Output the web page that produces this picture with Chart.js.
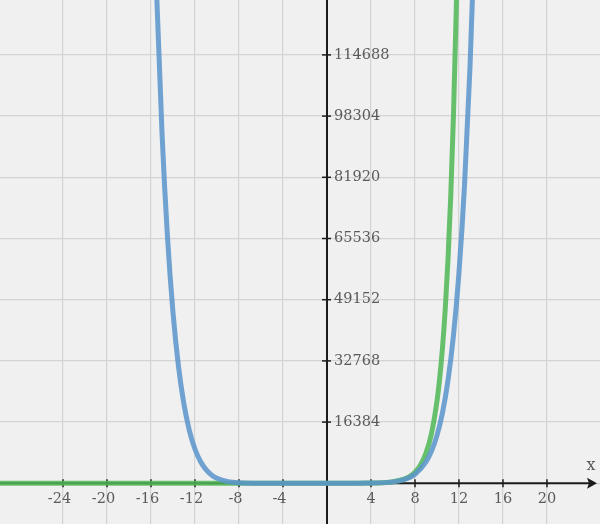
<!DOCTYPE html>
<html>
<head>
<meta charset="utf-8">
<script src="https://cdn.jsdelivr.net/npm/chart.js@4.4.1/dist/chart.umd.min.js"></script>
<style>
    html, body { margin: 0; padding: 0; background: #f0f0f0; }
    #wrap { width: 600px; height: 524px; position: relative; }
</style>
</head>
<body>
<div id="wrap"><canvas id="plot"></canvas></div>
<script>
// tick positions (grid) and the labelled ones
const xTicks = [-24, -20, -16, -12, -8, -4, 0, 4, 8, 12, 16, 20];
const xLabels = ['-24', '-20', '-16', '-12', '-8', '-4', '', '4', '8', '12', '16', '20'];
const yTicks = [0, 16384, 32768, 49152, 65536, 81920, 98304, 114688];
const yLabels = ['', '16384', '32768', '49152', '65536', '81920', '98304', '114688'];

// green curve
const greenX = [-30, -10, -5, 0, 2, 4, 5, 6, 7, 7.5, 8, 8.5, 9, 9.5, 10, 10.25, 10.5, 10.75, 11, 11.25, 11.5, 11.75, 12];
const greenY = [0, 0, 0.0067, 1, 7.4, 54.6, 148, 403, 1097, 1808, 2981, 4915, 8103, 13360, 22026, 28283, 36316, 46630, 59874, 76880, 98716, 126753, 162755];

// blue curve
const blueX = [-16, -15.5, -15, -14.5, -14, -13.5, -13, -12.5, -12, -11.5, -11, -10.5, -10, -9, -8, -6, -4, -2, 0, 2, 4, 6, 7, 8, 9, 9.5, 10, 10.5, 11, 11.5, 12, 12.5, 13, 13.5];
const blueY = [183611, 131944, 93771, 65854, 45666, 31236, 21054, 13968, 9109, 5831, 3657, 2243, 1343, 442, 127, 6, 0.1, 0.14, 1, 7.4, 54.5, 386, 989, 2432, 5721, 8622, 12842, 18911, 27535, 39657, 56513, 79717, 111348, 154072];

const X_MIN = -29.73, X_MAX = 24.82;
const Y_MIN = -10896, Y_MAX = 129385;

function toPoints(xs, ys) {
    return xs.map((x, i) => ({ x: x, y: ys[i] }));
}

const axesPlugin = {
    id: 'axes',
    beforeDatasetsDraw(chart) {
        const ctx = chart.ctx;
        const sx = chart.scales.x, sy = chart.scales.y;
        const x0 = sx.getPixelForValue(0);
        const y0 = sy.getPixelForValue(0);
        const area = chart.chartArea;
        ctx.save();
        ctx.strokeStyle = '#1c1c1c';
        ctx.fillStyle = '#1c1c1c';
        ctx.lineWidth = 2;
        // x axis with arrow
        ctx.beginPath();
        ctx.moveTo(area.left, y0);
        ctx.lineTo(area.right - 8, y0);
        ctx.stroke();
        ctx.beginPath();
        ctx.moveTo(area.right - 3, y0);
        ctx.lineTo(area.right - 13, y0 - 5.5);
        ctx.lineTo(area.right - 11, y0);
        ctx.lineTo(area.right - 13, y0 + 5.5);
        ctx.closePath();
        ctx.fill();
        // y axis
        ctx.beginPath();
        ctx.moveTo(x0, area.top);
        ctx.lineTo(x0, area.bottom);
        ctx.stroke();
        // tick marks
        ctx.lineWidth = 1.5;
        xTicks.forEach((v, i) => {
            if (!xLabels[i]) return;
            const px = sx.getPixelForValue(v);
            ctx.beginPath();
            ctx.moveTo(px, y0 - 4);
            ctx.lineTo(px, y0 + 4);
            ctx.stroke();
        });
        yTicks.forEach((v, i) => {
            if (!yLabels[i]) return;
            const py = sy.getPixelForValue(v);
            ctx.beginPath();
            ctx.moveTo(x0 - 5, py);
            ctx.lineTo(x0 + 4, py);
            ctx.stroke();
        });
        ctx.restore();
    },
    afterDatasetsDraw(chart) {
        const ctx = chart.ctx;
        const sx = chart.scales.x, sy = chart.scales.y;
        const x0 = sx.getPixelForValue(0);
        const y0 = sy.getPixelForValue(0);
        ctx.save();
        ctx.font = '14.5px "DejaVu Serif"';
        ctx.fillStyle = '#5a5a5a';
        ctx.textBaseline = 'middle';
        ctx.textAlign = 'center';
        xTicks.forEach((v, i) => {
            if (!xLabels[i]) return;
            const px = sx.getPixelForValue(v) + (v < 0 ? -3.5 : 0);
            ctx.fillText(xLabels[i], px, y0 + 16);
        });
        ctx.textAlign = 'left';
        yTicks.forEach((v, i) => {
            if (!yLabels[i]) return;
            ctx.fillText(yLabels[i], x0 + 7, sy.getPixelForValue(v));
        });
        ctx.font = '16px "DejaVu Serif"';
        ctx.textAlign = 'center';
        ctx.fillText('x', chart.chartArea.right - 9, y0 - 17);
        ctx.restore();
    }
};

new Chart(document.getElementById('plot'), {
    type: 'scatter',
    data: {
        datasets: [
            {
                label: 'blue',
                data: toPoints(blueX, blueY),
                showLine: true,
                borderColor: 'rgba(92, 150, 203, 0.88)',
                borderWidth: 5,
                pointRadius: 0,
                cubicInterpolationMode: 'monotone',
                order: 0
            },
            {
                label: 'green',
                data: toPoints(greenX, greenY),
                showLine: true,
                borderColor: 'rgba(78, 182, 84, 0.85)',
                borderWidth: 5,
                pointRadius: 0,
                cubicInterpolationMode: 'monotone',
                order: 1
            }
        ]
    },
    options: {
        responsive: true,
        maintainAspectRatio: false,
        animation: false,
        layout: { padding: 0 },
        plugins: {
            legend: { display: false },
            tooltip: { enabled: false }
        },
        scales: {
            x: {
                type: 'linear',
                min: X_MIN,
                max: X_MAX,
                afterBuildTicks: axis => { axis.ticks = xTicks.map(v => ({ value: v })); },
                ticks: { display: false },
                grid: { color: '#d3d3d3', lineWidth: 1.2, drawTicks: false },
                border: { display: false }
            },
            y: {
                type: 'linear',
                min: Y_MIN,
                max: Y_MAX,
                afterBuildTicks: axis => { axis.ticks = yTicks.map(v => ({ value: v })); },
                ticks: { display: false },
                grid: { color: '#d3d3d3', lineWidth: 1.2, drawTicks: false },
                border: { display: false }
            }
        }
    },
    plugins: [axesPlugin]
});
</script>
</body>
</html>
